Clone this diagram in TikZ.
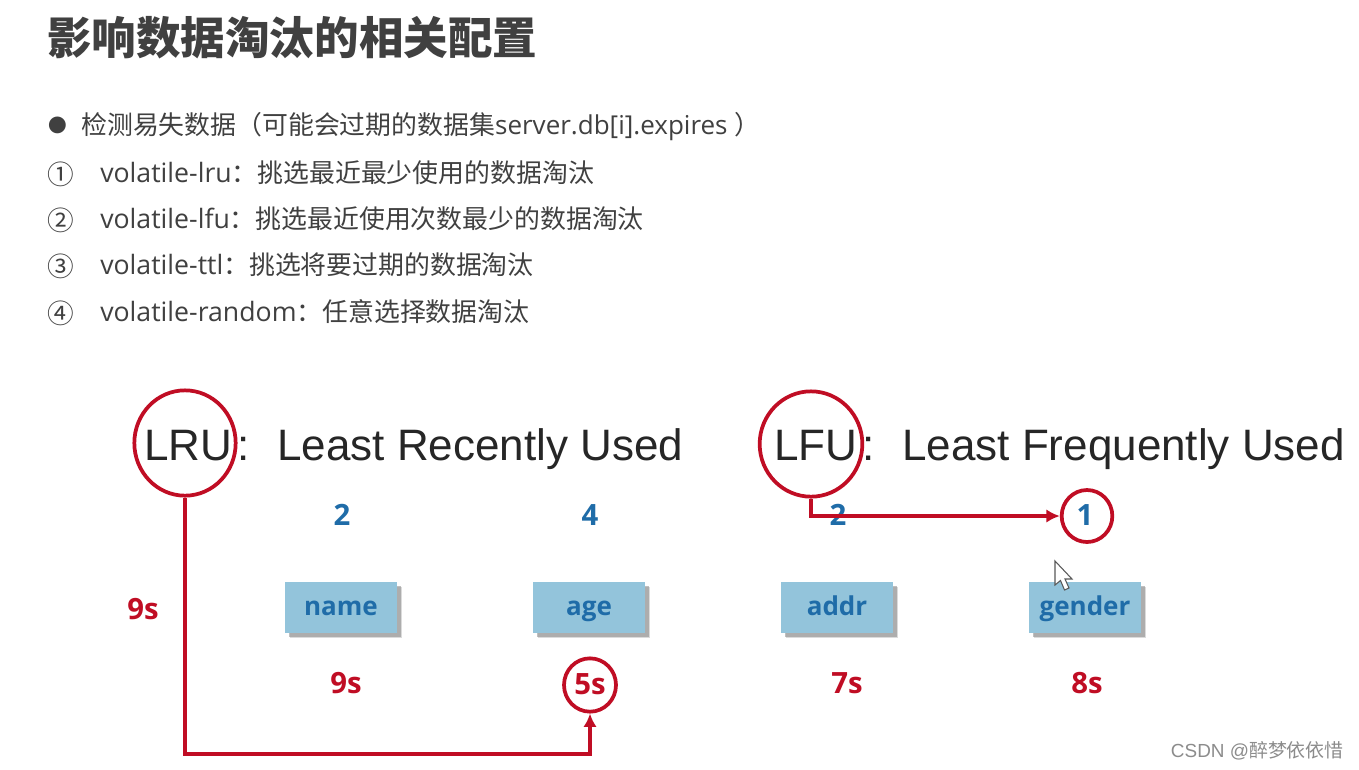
\documentclass[tikz,border=0pt]{standalone}
\usepackage{fontspec}
\setmainfont{Open Sans}
\newfontfamily\cjk{Noto Sans CJK SC}
\newfontfamily\arialfont{Liberation Sans}
\usetikzlibrary{arrows.meta,shadows,shapes.geometric}
\definecolor{inktext}{HTML}{404040}
\definecolor{boxfill}{HTML}{93C4DB}
\definecolor{boxink}{HTML}{1F6CA8}
\definecolor{redink}{HTML}{C00D24}
\newcommand{\zh}[1]{{\cjk\fontsize{19.4pt}{22pt}\selectfont #1}}
\tikzset{
  x=0.75pt,y=-0.75pt,
  titletext/.style={anchor=west,inner sep=0pt,text=inktext,font=\cjk\bfseries\fontsize{33.4pt}{38pt}\selectfont},
  bodytext/.style={anchor=west,inner sep=0pt,text=inktext,font=\fontsize{20pt}{24pt}\selectfont},
  marktext/.style={anchor=center,inner sep=0pt,text=inktext,font=\cjk\fontsize{20pt}{22pt}\selectfont},
  headtext/.style={anchor=base west,inner sep=0pt,text=black!85,font=\arialfont\fontsize{33pt}{36pt}\selectfont},
  fieldbox/.style={fill=boxfill,minimum width=84pt,minimum height=38pt,inner sep=0pt,text=boxink,text height=13pt,text depth=1pt,font=\bfseries\fontsize{19.5pt}{22pt}\selectfont,
     general shadow={shadow xshift=3.8pt,shadow yshift=-3.8pt,fill=black!40,opacity=.35},
     general shadow={shadow xshift=2.8pt,shadow yshift=-2.8pt,fill=black!50,opacity=.5}},
  bluetext/.style={inner sep=0pt,text=boxink,font=\bfseries\fontsize{22pt}{24pt}\selectfont},
  redtext/.style={inner sep=0pt,text=redink,font=\bfseries\fontsize{22pt}{24pt}\selectfont},
  ring/.style={draw=redink,line width=2.8pt,shape=ellipse,inner sep=0pt},
  redline/.style={draw=redink,line width=2.6pt,-{Latex[length=10pt,width=10pt]}},
  markname/.style={inner sep=0pt,text=black!45,font=\arialfont\fontsize{14.2pt}{16pt}\selectfont}
}
\begin{document}
\begin{tikzpicture}
\useasboundingbox (0,0) rectangle (1359,769);
\fill[white] (0,0) rectangle (1359,769);
\node[titletext] (title) at (47,38) {影响数据淘汰的相关配置};
\node[marktext,font=\cjk\fontsize{14pt}{18pt}\selectfont] (bullet) at (58,125) {●};
\node[bodytext,font=\fontsize{19.5pt}{24pt}\selectfont] (intro) at (81,127) {\zh{检测易失数据（可能会过期的数据集}server.db[i].expires \zh{）}};
\node[marktext] (m1) at (61,174) {①};
\node[marktext] (m2) at (61,220) {②};
\node[marktext] (m3) at (61,266) {③};
\node[marktext] (m4) at (61,313) {④};
\node[bodytext] (l1) at (100,173) {volatile-lru\zh{：挑选最近最少使用的数据淘汰}};
\node[bodytext] (l2) at (100,219) {volatile-lfu\zh{：挑选最近使用次数最少的数据淘汰}};
\node[bodytext] (l3) at (100,265) {volatile-ttl\zh{：挑选将要过期的数据淘汰}};
\node[bodytext] (l4) at (100,312) {volatile-random\zh{：任意选择数据淘汰}};

\node[headtext] (lru) at (144,460) {LRU};
\node[headtext] (lrucolon) at (237,460) {:};
\node[headtext] (lrutext) at (277,460) {Least Recently Used};
\node[headtext] (lfu) at (774,460) {LFU};
\node[headtext] (lfucolon) at (862,460) {:};
\node[headtext] (lfutext) at (902,460) {Least Frequently Used};

\node[bluetext] (n2a) at (342,515) {2};
\node[bluetext] (n4) at (590,515) {4};
\node[bluetext] (n2b) at (838,515) {2};
\node[bluetext] (n1) at (1085,515) {1};

\node[fieldbox] (name) at (341,607.5) {name};
\node[fieldbox] (age) at (589,607.5) {age};
\node[fieldbox] (addr) at (837,607.5) {addr};
\node[fieldbox] (gender) at (1085,607.5) {gender};

\node[redtext] (t9l) at (143,609) {9s};
\node[redtext] (t9) at (346,683) {9s};
\node[redtext] (t5) at (590,684) {5s};
\node[redtext] (t7) at (847,683) {7s};
\node[redtext] (t8) at (1087,683) {8s};

\node[ring,minimum width=76pt,minimum height=79pt] (lruring) at (185,443) {};
\node[ring,minimum width=77pt,minimum height=79pt] (lfuring) at (811,444) {};
\node[ring,minimum width=38pt,minimum height=39pt] (ring1) at (1087,516) {};
\node[ring,minimum width=39pt,minimum height=40pt] (ring5) at (590,685) {};

\coordinate (c1) at (lruring.south |- 0,754);
\coordinate (c2) at (ring5.south |- 0,754);
\draw[redline] (lruring.south) -- (c1) -- (c2) -- (ring5.south);
\coordinate (c3) at (lfuring.south |- ring1.west);
\draw[redline] (lfuring.south) -- (c3) -- (ring1.west);

\draw[fill=white,draw=black!65,line width=0.8pt] (1055,561) -- (1055,585) -- (1060.5,580.5) -- (1064.5,590) -- (1069,588) -- (1065,579) -- (1072,579) -- cycle;

\node[markname,anchor=east] (wm) at (1344,751) {CSDN @{\cjk 醉梦依依惜}};
\end{tikzpicture}
\end{document}
